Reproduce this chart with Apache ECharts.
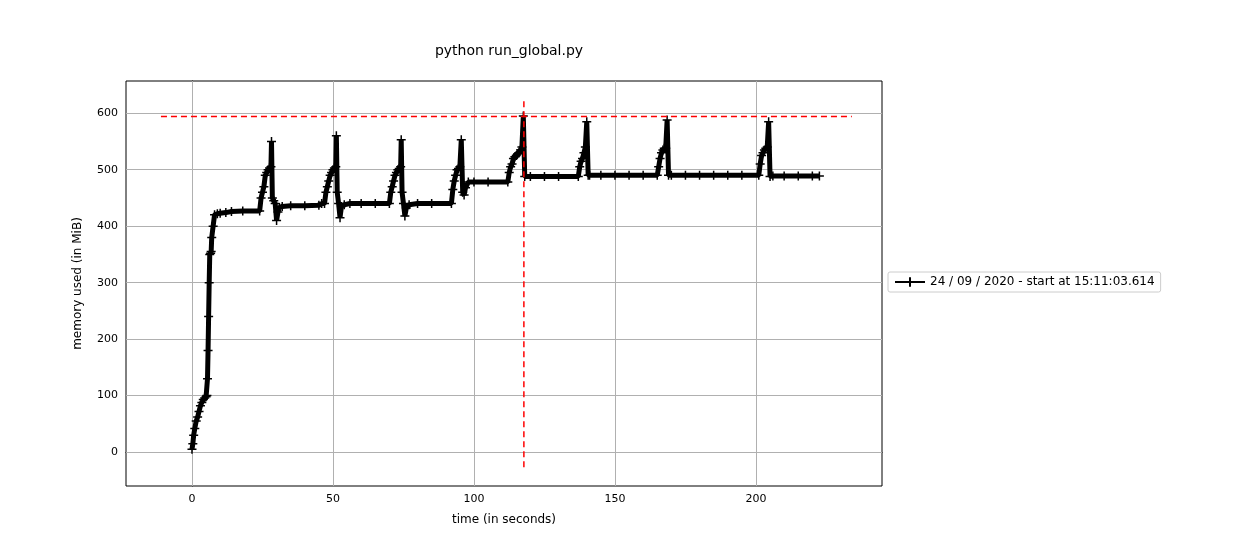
<!DOCTYPE html>
<html><head><meta charset="utf-8">
<script src="https://cdn.jsdelivr.net/npm/echarts@6/dist/echarts.min.js"></script>
<style>html,body{margin:0;padding:0;background:#fff}#c{width:1260px;height:540px}</style>
</head><body><div id="c"></div>
<script>
var times = [0,0.3,0.6,1,1.5,2,2.5,3,3.5,4,4.5,5,5.3,5.5,5.7,5.9,6.1,6.3,6.6,6.8,7,7.5,8,9,10,12,14,18,24,
24.5,25,25.5,26,26.5,27,27.5,28,28.2,28.5,29,29.5,30,30.5,31,32,35,40,45,46,47,
47.5,48,48.5,49,49.5,50,50.5,51,51.2,51.5,52,52.5,53,54,56,60,65,70,
70.5,71,71.5,72,72.5,73,73.5,74,74.2,74.5,75,75.5,76,77,80,85,92,
92.5,93,93.5,94,94.5,95,95.5,96,96.5,97,98,100,105,112,
112.5,113,113.5,114,114.5,115,115.5,116,116.5,117,117.5,118,120,125,130,137,
137.5,138,138.5,139,139.5,140,140.5,141,145,150,155,160,165,
165.5,166,166.5,167,167.5,168,168.5,169,170,175,180,185,190,195,201,
201.5,202,202.5,203,203.5,204,204.5,205,206,210,215,220,222.5];
var memory = [5,15,30,42,55,62,72,82,88,93,96,98,100,130,180,240,300,350,352,355,380,400,420,422,423,424,426,427,427,
450,460,470,490,495,500,503,505,550,450,445,440,410,425,433,435,436,436,437,440,440,
460,470,480,490,495,500,503,505,560,460,440,415,435,438,440,440,440,440,
460,470,480,490,495,500,502,505,553,460,440,418,432,438,440,440,440,
465,480,490,500,502,505,553,460,455,468,478,478,478,478,
495,505,510,520,523,525,528,530,535,540,595,488,488,488,488,488,
505,515,520,530,540,585,490,490,490,490,490,490,490,
505,520,530,535,538,538,588,490,490,490,490,490,490,490,490,
510,525,530,535,538,540,585,488,489,489,489,489,489];
var maxUsage = 594;
var maxTime = 117.7;
var xTicks = [0,50,100,150,200];
var yTicks = [0,100,200,300,400,500,600];
var legendLabel = '24 / 09 / 2020 - start at 15:11:03.614';

var pts = times.map(function(t,i){return [t,memory[i]];});
var plus = 'path://M0,-1L0,1M-1,0L1,0Z';
var chart = echarts.init(document.getElementById('c'));
chart.setOption({
  animation:false,
  title:{text:'python run_global.py',left:504,top:39,textAlign:'center',textStyle:{fontFamily:'DejaVu Sans',fontSize:14,fontWeight:'normal',color:'#000'}},
  grid:{left:126,right:378,top:81,bottom:54,show:true,borderColor:'#000',borderWidth:1},
  legend:{left:888,top:272,orient:'vertical',itemWidth:30,itemHeight:12,padding:[4,6],borderColor:'#ccc',borderWidth:1,borderRadius:2,
    textStyle:{fontFamily:'DejaVu Sans',fontSize:12,color:'#000'},data:[legendLabel]},
  xAxis:{type:'value',min:-23.4,max:244.7,name:'time (in seconds)',nameLocation:'middle',nameGap:28,
    nameTextStyle:{fontFamily:'DejaVu Sans',fontSize:12,color:'#000'},
    axisLine:{lineStyle:{color:'#000'}},axisTick:{show:true,customValues:xTicks,length:4,lineStyle:{color:'#000'}},
    axisLabel:{customValues:xTicks,color:'#000',fontFamily:'DejaVu Sans',fontSize:11},
    splitLine:{show:false}},
  yAxis:{type:'value',min:-60,max:657,name:'memory used (in MiB)',nameLocation:'middle',nameGap:42,
    nameTextStyle:{fontFamily:'DejaVu Sans',fontSize:12,color:'#000'},
    axisLine:{show:true,lineStyle:{color:'#000'}},axisTick:{show:true,customValues:yTicks,length:4,lineStyle:{color:'#000'}},
    axisLabel:{customValues:yTicks,color:'#000',fontFamily:'DejaVu Sans',fontSize:11},
    splitLine:{show:false}},
  series:[
    {type:'line',name:'gx',silent:true,symbol:'none',lineStyle:{color:'#b0b0b0',width:1},
      data:[],markLine:{silent:true,symbol:'none',label:{show:false},lineStyle:{color:'#b0b0b0',width:1,type:'solid'},
      data:xTicks.map(function(v){return {xAxis:v};}).concat(yTicks.map(function(v){return {yAxis:v};}))}},
    {type:'line',name:legendLabel,data:pts,symbol:plus,symbolSize:9,showAllSymbol:true,
      itemStyle:{color:'#000',borderColor:'#000',borderWidth:1.5},lineStyle:{color:'#000',width:5},z:5},
    {type:'line',name:'max',data:[[-11,maxUsage],[234,maxUsage]],symbol:'none',lineStyle:{color:'#ff0000',type:[6,4],width:1.5},z:6},
    {type:'line',name:'vmax',data:[[maxTime,-27],[maxTime,622]],symbol:'none',lineStyle:{color:'#ff0000',type:[6,4],width:1.5},z:6}
  ]
});
</script></body></html>
